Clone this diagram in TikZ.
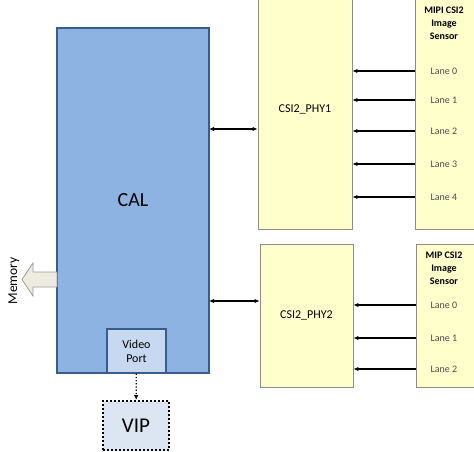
\documentclass[tikz,border=0pt]{standalone}
\usepackage{fontspec}
\setmainfont{Carlito}
\usetikzlibrary{arrows.meta, positioning}

\definecolor{calblue}{HTML}{8DB3E2}
\definecolor{calline}{HTML}{385D8A}
\definecolor{portblue}{HTML}{C6D9F1}
\definecolor{vipblue}{HTML}{DCE6F2}
\definecolor{phyyellow}{HTML}{FFFFCC}
\definecolor{phyline}{HTML}{8C8C8C}
\definecolor{memfill}{HTML}{EEECE1}
\definecolor{memline}{HTML}{9C9C9C}

\begin{document}
\begin{tikzpicture}[x=1pt, y=-1pt,
  block/.style={draw=calline, line width=1.2pt, inner sep=0pt, align=center},
  phybox/.style={draw=phyline, fill=phyyellow, line width=0.9pt, inner sep=0pt,
                 font=\fontsize{12}{14}\selectfont},
  lane/.style={font=\fontsize{10}{12}\selectfont, text=black!70},
  sensortitle/.style={font=\bfseries\fontsize{10}{13}\selectfont, align=center},
  link/.style={-{Latex[length=5pt,width=4.5pt]}, line width=1.1pt},
  dlink/.style={{Latex[length=5pt,width=4.5pt]}-{Latex[length=5pt,width=4.5pt]}, line width=1.1pt}
]
\useasboundingbox (0,0) rectangle (474,452);

% CAL side
\node[block, fill=calblue, minimum width=152pt, minimum height=345pt,
      font=\fontsize{20}{24}\selectfont] (cal) at (133,200.5) {CAL};
\node[block, fill=portblue, minimum width=59pt, minimum height=44pt,
      font=\fontsize{12}{14}\selectfont] (vport) at (136.5,351) {Video\\Port};
\node[draw, dotted, line width=2pt, fill=vipblue, minimum width=66pt, minimum height=49pt,
      inner sep=0pt, font=\fontsize{21}{24}\selectfont] (vip) at (136,425.5) {VIP};
\draw[-{Latex[length=5pt,width=4.5pt]}, dotted, line width=1.2pt] (vport) -- (vip);

% memory port
\draw[fill=memfill, draw=memline, line width=0.8pt]
  (57,272) -- (33,272) -- (33,263) -- (22,279.5) -- (33,296) -- (33,287) -- (57,287) -- cycle;
\node[rotate=90, font=\fontsize{13.5}{16}\selectfont] (mem) at (14,281) {Memory};

% PHYs and sensors
\node[phybox, minimum width=94pt, minimum height=240pt] (phy1) at (305,109) {CSI2\_PHY1};
\node[phybox, minimum width=99pt, minimum height=240pt] (sens1) at (464.5,109) {};
\node[phybox, minimum width=93pt, minimum height=143pt] (phy2) at (306.5,315.5) {CSI2\_PHY2};
\node[phybox, minimum width=98pt, minimum height=143pt] (sens2) at (465,315.5) {};

\node[sensortitle] (title1) at (444,23) {MIPI CSI2\\Image\\Sensor};
\node[sensortitle] (title2) at (444,268) {MIP CSI2\\Image\\Sensor};

\foreach \i/\y in {0/71,1/100,2/131,3/164,4/197}{
  \node[lane] (laneA\i) at (444,\y) {Lane \i};
  \draw[link] (sens1.west |- laneA\i) -- (phy1.east |- laneA\i);
}
\foreach \i/\y in {0/305,1/338,2/369}{
  \node[lane] (laneB\i) at (444,\y) {Lane \i};
  \draw[link] (sens2.west |- laneB\i) -- (phy2.east |- laneB\i);
}

\coordinate (c1) at (209,129);
\coordinate (c2) at (209,301);
\draw[dlink] (c1) -- (phy1.west |- c1);
\draw[dlink] (c2) -- (phy2.west |- c2);
\end{tikzpicture}
\end{document}
